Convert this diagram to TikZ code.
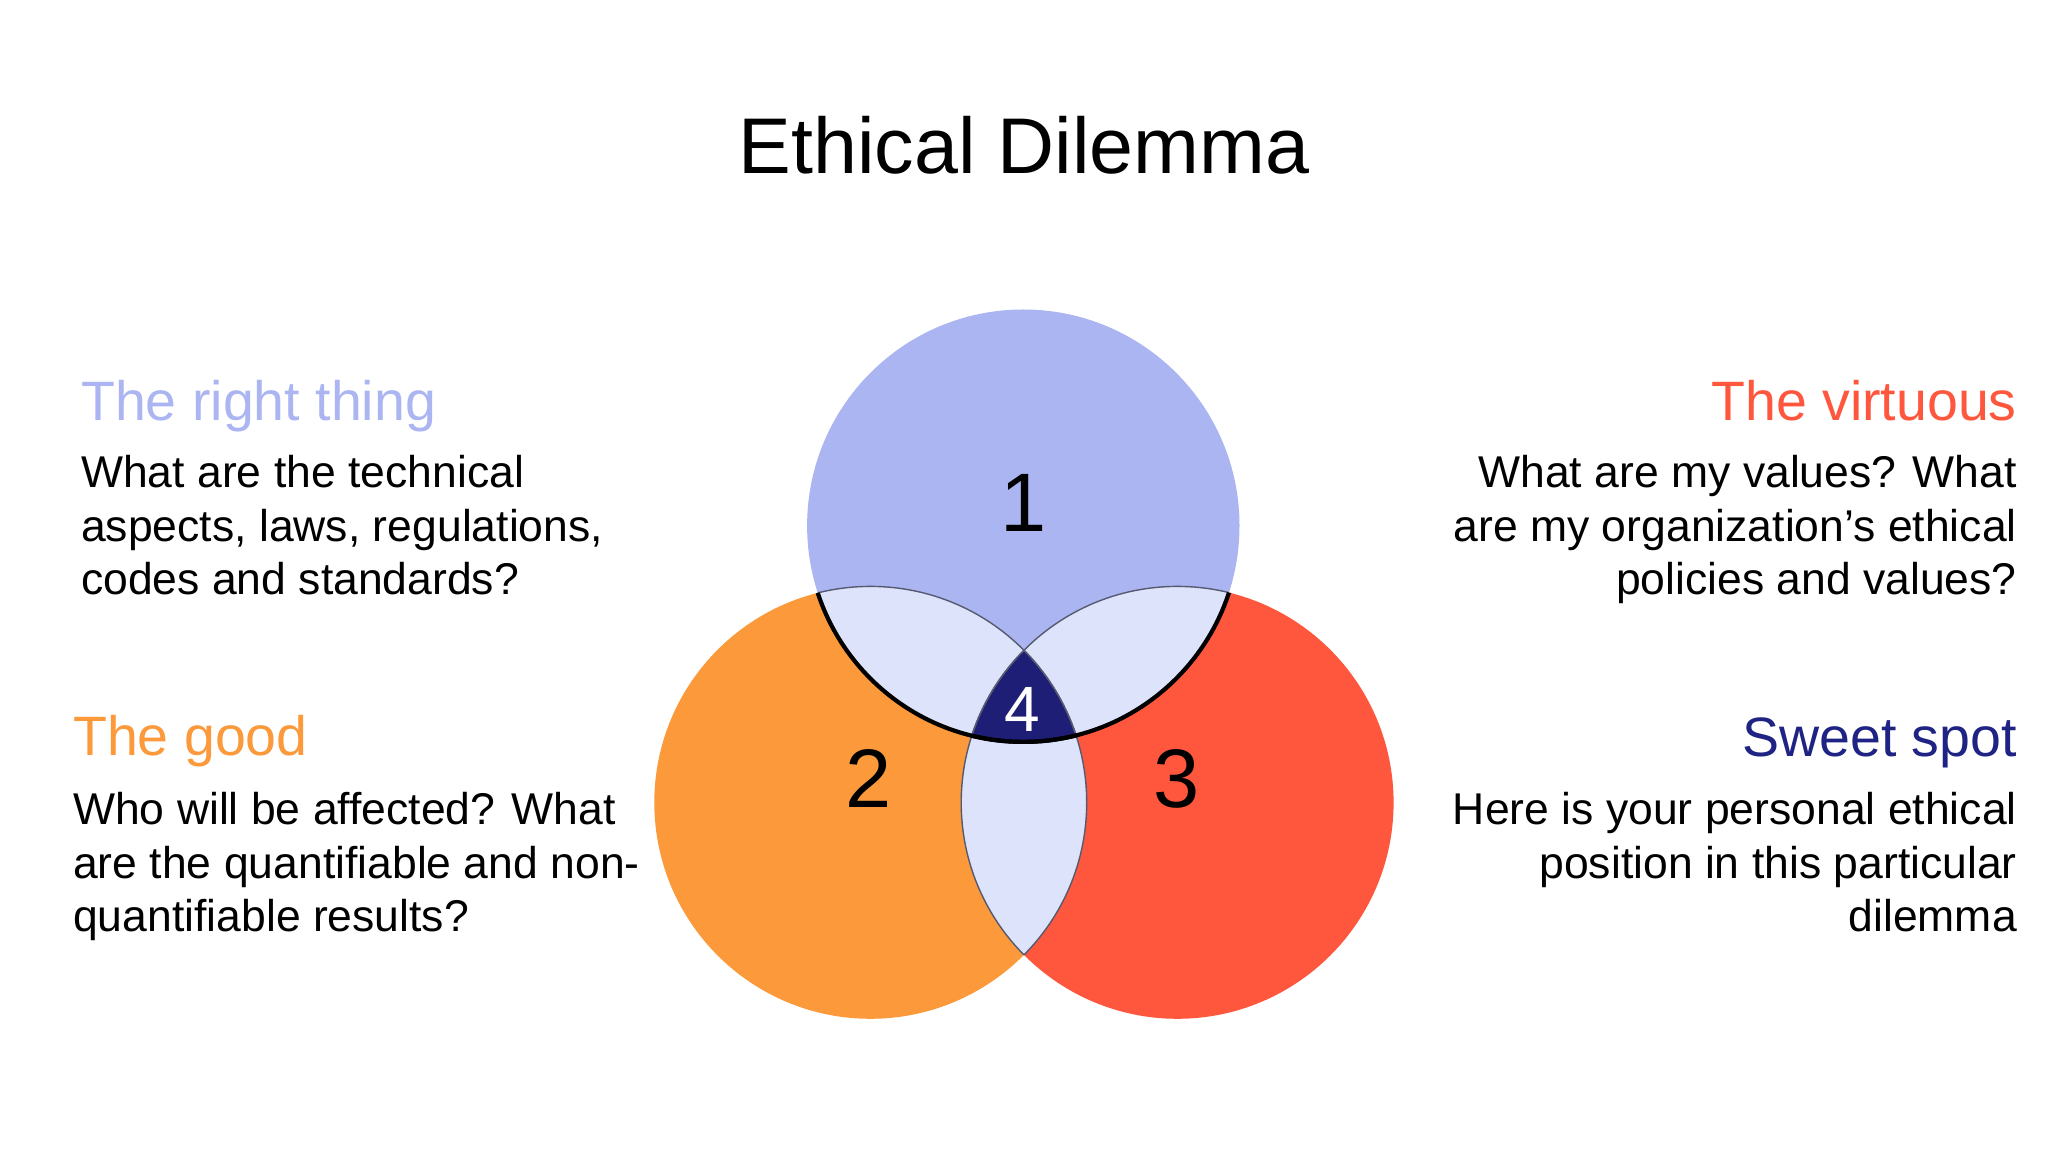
\documentclass[tikz,border=0pt]{standalone}
\usepackage{fontspec}
\setmainfont{Liberation Sans}
\definecolor{cone}{HTML}{ABB5F1}
\definecolor{ctwo}{HTML}{FC993B}
\definecolor{cthree}{HTML}{FE573D}
\definecolor{clens}{HTML}{DCE3FA}
\definecolor{cnavy}{HTML}{1F1E77}
\definecolor{snavy}{HTML}{1F2383}
\definecolor{thinline}{HTML}{555A70}
\tikzset{
  bodytext/.style={inner sep=0pt, font=\fontsize{44.5}{53.6}\selectfont},
  headtext/.style={inner sep=0pt, font=\fontsize{55.5}{66}\selectfont},
  numtext/.style={inner sep=0pt, font=\fontsize{83}{90}\selectfont},
  thinarc/.style={draw=thinline, line width=1.4pt},
  thickarc/.style={draw=black, line width=4.2pt}
}
\begin{document}
\begin{tikzpicture}[x=1pt,y=1pt]
\useasboundingbox (0,0) rectangle (2048,1152);
\fill[white] (0,0) rectangle (2048,1152);
\def\R{216.2}
\coordinate (c1) at (1023.3,626.3);
\coordinate (c2) at (870.5,349.4);
\coordinate (c3) at (1177.4,349.4);
% base circles
\fill[ctwo] (c2) circle (\R);
\fill[cthree] (c3) circle (\R);
\fill[cone] (c1) circle (\R);
% pairwise overlaps
\begin{scope}
  \clip (c1) circle (\R);
  \fill[clens] (c2) circle (\R);
  \fill[clens] (c3) circle (\R);
\end{scope}
\begin{scope}
  \clip (c2) circle (\R);
  \fill[clens] (c3) circle (\R);
\end{scope}
% triple overlap
\begin{scope}
  \clip (c1) circle (\R);
  \clip (c2) circle (\R);
  \fill[cnavy] (c3) circle (\R);
\end{scope}
% thin outlines
\begin{scope}
  \clip (c1) circle (\R);
  \draw[thinarc] (c2) circle (\R);
  \draw[thinarc] (c3) circle (\R);
\end{scope}
\begin{scope}
  \clip (c2) circle (\R);
  \draw[thinarc] (c3) circle (\R);
\end{scope}
\begin{scope}
  \clip (c3) circle (\R);
  \draw[thinarc] (c2) circle (\R);
\end{scope}
% thick arc of circle 1
\begin{scope}
  \clip (c2) circle (\R);
  \draw[thickarc] (c1) circle (\R);
\end{scope}
\begin{scope}
  \clip (c3) circle (\R);
  \draw[thickarc] (c1) circle (\R);
\end{scope}
% numbers
\node[numtext] (n1) at (1024,649) {1};
\node[numtext] (n2) at (869,373) {2};
\node[numtext] (n3) at (1177,373) {3};
\node[inner sep=0pt, font=\fontsize{64}{70}\selectfont, text=white] (n4) at (1022,443) {4};
% title
\node[inner sep=0pt, anchor=base, font=\fontsize{79}{90}\selectfont] (title) at (1024,978) {Ethical Dilemma};
% left texts
\node[headtext, anchor=base west, text=cone] (h1) at (81,731) {The right thing};
\node[bodytext, anchor=north west, align=left] (b1) at (81,697)
  {What are the technical\\aspects, laws, regulations,\\codes and standards?};
\node[headtext, anchor=base west, text=ctwo] (h2) at (73,396) {The good};
\node[bodytext, anchor=north west, align=left] (b2) at (73,360)
  {Who will be affected? What\\are the quantifiable and non-\\quantifiable results?};
% right texts
\node[headtext, anchor=base east, text=cthree] (h3) at (2017,731) {The virtuous};
\node[bodytext, anchor=north east, align=right] (b3) at (2017,697)
  {What are my values? What\\are my organization’s ethical\\policies and values?};
\node[headtext, anchor=base east, text=snavy] (h4) at (2017,395) {Sweet spot};
\node[bodytext, anchor=north east, align=right] (b4) at (2017,360)
  {Here is your personal ethical\\position in this particular\\dilemma};
\end{tikzpicture}
\end{document}
